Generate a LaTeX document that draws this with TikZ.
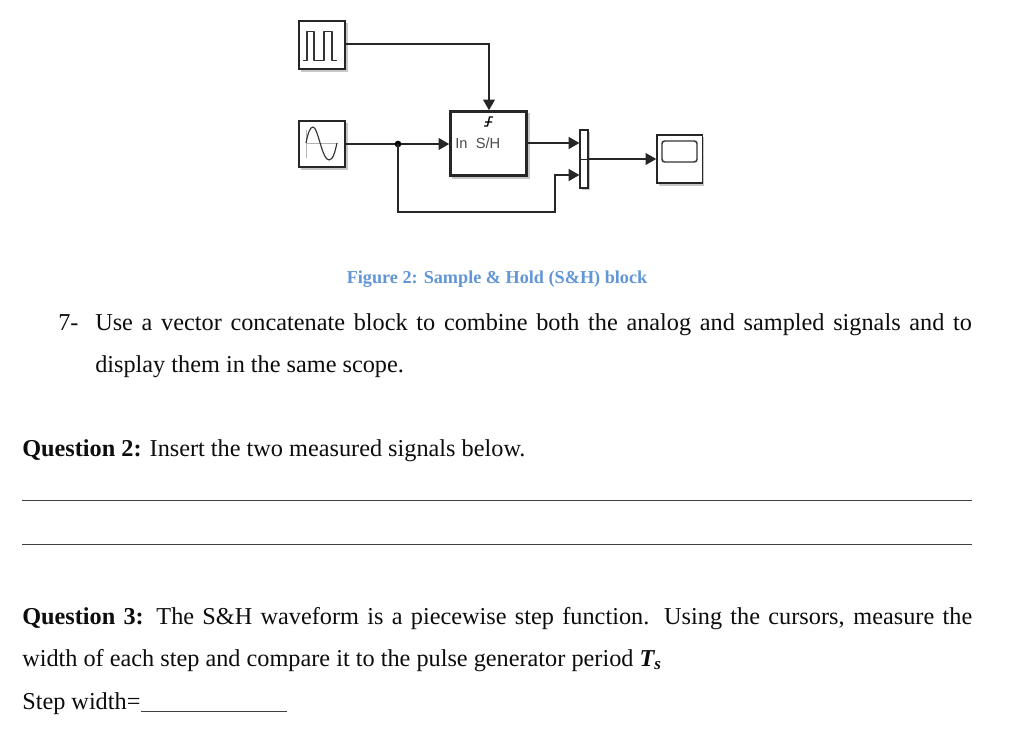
\documentclass[tikz,border=0pt]{standalone}
\usepackage{fontspec}
\setmainfont{Liberation Serif}
\newfontfamily\blockfont{Liberation Sans}
\usetikzlibrary{arrows.meta}
\definecolor{capblue}{RGB}{98,150,214}
\newcommand{\bodysize}{\fontsize{18.2pt}{22pt}\selectfont}
\tikzset{
  x=0.75pt,y=-0.75pt,
  wire/.style={line width=0.8pt,draw=black!85},
  sig/.style={wire,-{Triangle[length=8pt,width=9pt]}},
  block/.style={draw=black!85,line width=1pt,fill=white,inner sep=0pt},
  shadowbox/.style={fill=black!22,draw=none},
  icon/.style={line width=0.85pt,draw=black!80,line join=round},
  body/.style={font=\bodysize,anchor=base west,inner sep=0pt,text=black!95},
  rulel/.style={line width=0.6pt,draw=black!75},
  dotj/.style={circle,fill=black,inner sep=0pt,minimum size=5pt},
  blabel/.style={font=\blockfont\fontsize{11pt}{13pt}\selectfont,text=black!70,inner sep=0pt,anchor=base west},
}
\begin{document}
\begin{tikzpicture}
\useasboundingbox (0,0) rectangle (1024,749);
\fill[white] (0,0) rectangle (1024,749);
% shadows
\fill[shadowbox] (301,23) rectangle (348,72);
\fill[shadowbox] (301,123) rectangle (348,170);
\fill[shadowbox] (452,113) rectangle (530,179);
\fill[shadowbox] (582,132) rectangle (590,190);
\fill[shadowbox] (659,137) rectangle (704,186);
% blocks
\node[block,minimum width=34.5pt,minimum height=36pt] (pulse) at (322,45) {};
\node[block,minimum width=34.5pt,minimum height=34.5pt] (sine) at (322,144) {};
\node[block,line width=2pt,minimum width=57pt,minimum height=48pt] (sh) at (488.5,143.5) {};
\node[block,minimum width=6pt,minimum height=43.5pt] (mux) at (584,159) {};
\node[block,minimum width=34pt,minimum height=36pt] (scope) at (679.5,159) {};
\coordinate (junction) at (398,144);
\coordinate (inA) at (sh.west |- junction);
\coordinate (muxA) at (mux.west |- 0,143);
\coordinate (muxB) at (mux.west |- 0,175);
\coordinate (loopA) at (398,212);
\coordinate (loopB) at (555,212);
\coordinate (loopC) at (555,175);
\coordinate (corner) at (489,44);
% pulse icon
\draw[icon] (303,60.5) -- (307,60.5) -- (307,31.5) -- (314,31.5) -- (314,60.5) -- (324,60.5) -- (324,31.5) -- (332,31.5) -- (332,60.5) -- (337,60.5);
% sine icon
\draw[line width=0.5pt,black!30] (306,143) -- (338,143) (306,130) -- (306,158);
\draw[icon] (306,143) .. controls (308,133) and (310,127) .. (313,127) .. controls (318,127) and (322,160) .. (329,160) .. controls (333,160) and (335,152) .. (337,143);
% scope screen
\draw[icon,line width=1.1pt,rounded corners=2pt] (662,141) rectangle (697,162);
% trigger symbol
\draw[line width=1pt,black] (484,126) -- (487.5,126) -- (489.5,117) -- (493,117) (485,122) -- (492,122);
% connectors
\draw[sig] (pulse.east |- corner) -- (corner) -- (corner |- sh.north);
\draw[wire] (sine.east |- junction) -- (junction);
\draw[sig] (junction) -- (inA);
\node[dotj] (jdot) at (junction) {};
\draw[sig] (jdot.center) -- (loopA) -- (loopB) -- (loopC) -- (muxB);
\draw[sig] (sh.east |- muxA) -- (muxA);
\draw[sig] (mux.east) -- (scope.west);
\draw[wire,line width=0.6pt] (mux.west) -- (mux.east);
% block labels
\node[blabel] (lin) at (455,148) {In};
\node[blabel] (lsh) at (475.5,148.5) {S/H};
% caption
\node[font=\fontsize{13.65pt}{16pt}\selectfont\bfseries,text=capblue,anchor=base,inner sep=0pt] (cap) at (497,283) {Figure 2: Sample \& Hold (S\&H) block};
% body
\node[body] (n7) at (58,330) {7-};
\node[body] (l1) at (95,330) {\makebox[657.5pt][s]{Use a vector concatenate block to combine both the analog and sampled signals and to}};
\node[body] (l2) at (95,372) {display them in the same scope.};
\node[body] (q2) at (22,456) {\textbf{Question 2:} Insert the two measured signals below.};
\coordinate (r1a) at (22,500); \coordinate (r1b) at (972,500);
\coordinate (r2a) at (22,544); \coordinate (r2b) at (972,544);
\draw[rulel] (r1a) -- (r1b);
\draw[rulel] (r2a) -- (r2b);
\node[body] (q3) at (22,624) {\makebox[712.5pt][s]{\textbf{Question 3:} The S\&H waveform is a piecewise step function. Using the cursors, measure the}};
\node[body] (l3) at (22,666) {width of each step and compare it to the pulse generator period \textbf{\textit{T\textsubscript{s}}}};
\node[body] (l4) at (22,709) {Step width=};
\coordinate (r3a) at (141,711); \coordinate (r3b) at (287,711);
\draw[rulel] (r3a) -- (r3b);
\end{tikzpicture}
\end{document}
